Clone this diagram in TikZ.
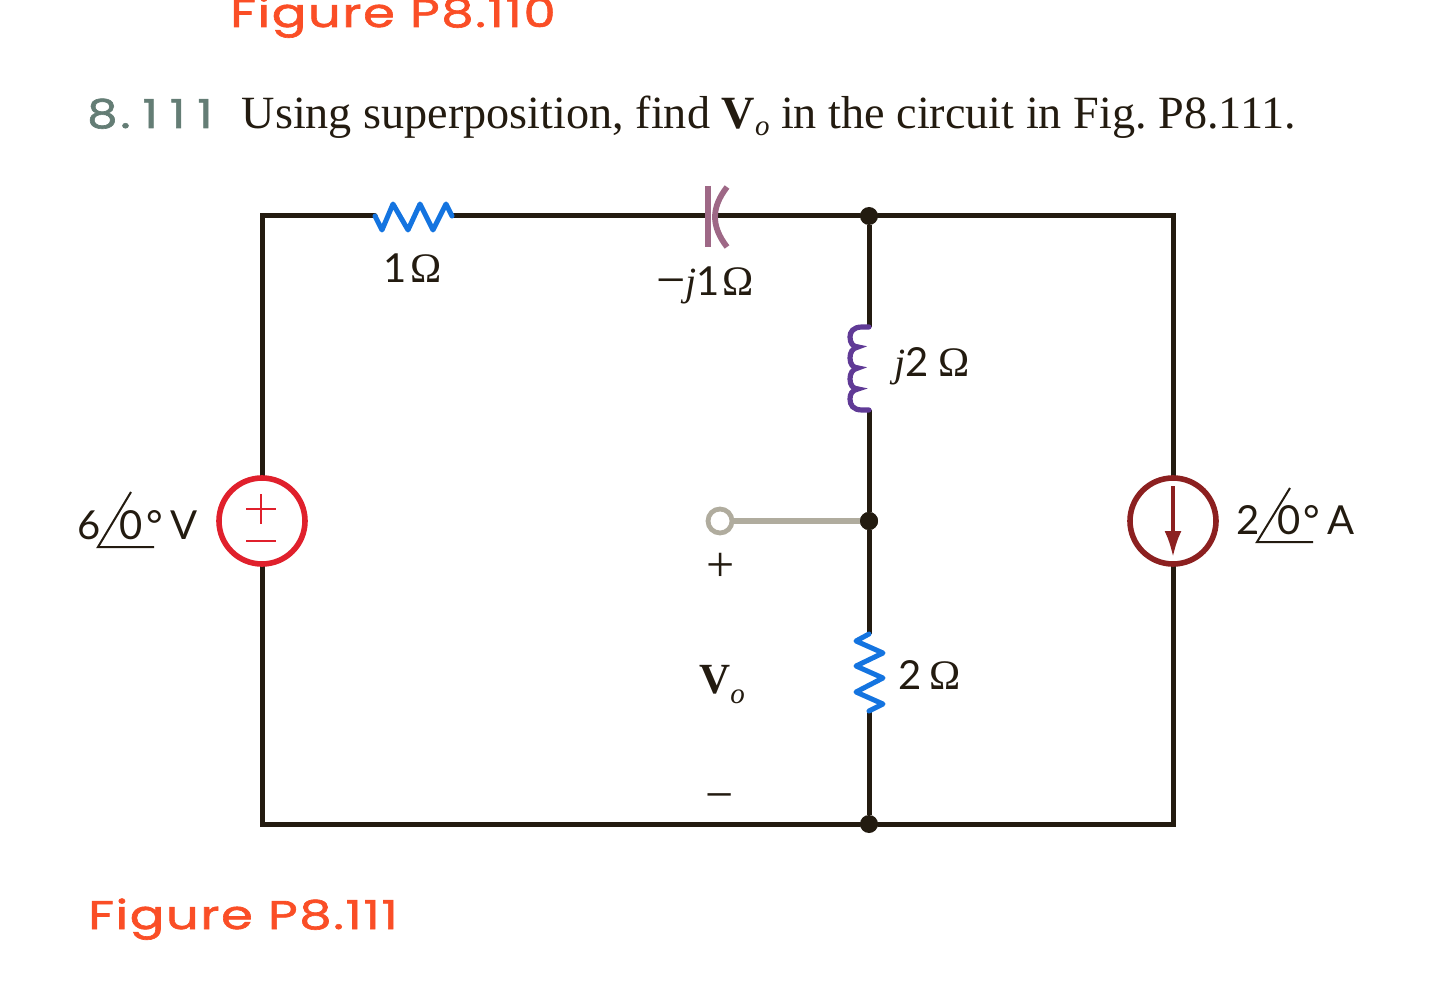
\documentclass[tikz,border=0pt]{standalone}
\usepackage{fontspec}
\setmainfont{Liberation Serif}
\newfontfamily\lblf{Lato}
\newfontfamily\figf{Poppins}[FakeStretch=1.28,LetterSpace=4,FakeBold=1.6]
\newfontfamily\numf{Poppins}[FakeStretch=1.2,LetterSpace=30,FakeBold=1.6]
\usetikzlibrary{arrows.meta}
\definecolor{ink}{RGB}{35,27,16}
\definecolor{orng}{RGB}{250,78,38}
\definecolor{numc}{RGB}{100,125,117}
\definecolor{blu}{RGB}{20,116,224}
\definecolor{mauve}{RGB}{158,104,134}
\definecolor{purp}{RGB}{96,58,150}
\definecolor{redc}{RGB}{224,32,44}
\definecolor{darkr}{RGB}{140,32,32}
\definecolor{gry}{RGB}{176,172,158}
\tikzset{
  wire/.style={draw=ink,line width=5pt},
  res/.style={draw=blu,line width=5pt,line join=round,line cap=round},
  dot/.style={circle,fill=ink,inner sep=0pt,minimum size=18pt},
  src/.style={circle,draw=#1,line width=5.6pt,fill=white,inner sep=0pt,minimum size=86pt},
  lbl/.style={text=ink,inner sep=0pt,anchor=base west,font=\fontsize{40}{44}\selectfont\lblf},
  head/.style={text=ink,inner sep=0pt,anchor=base west,font=\fontsize{46.2}{50}\selectfont\frenchspacing},
  fig/.style={text=orng,inner sep=0pt,anchor=base west,font=\fontsize{40}{46}\selectfont\figf},
  thin line/.style={draw=ink,line width=2pt},
  pm/.style={text=ink,inner sep=0pt,anchor=base,font=\fontsize{50}{52}\selectfont},
}
\newcommand{\ohm}{{\rmfamily\fontsize{42}{44}\selectfont\char"03A9}}
\newcommand{\jit}{{\rmfamily\itshape j}}
\begin{document}
\begin{tikzpicture}[x=1pt,y=-1pt]
\useasboundingbox (0,0) rectangle (1452,1000);
\clip (0,0) rectangle (1452,1000);
% texts
\node[fig] (figa) at (230,27) {Figure P8.110};
\node[fig] (figb) at (88,929) {Figure P8.111};
\node[fig,text=numc,font=\fontsize{40}{46}\selectfont\numf] (num) at (87,128) {8\kern 3pt.111};
\node[head] (prob) at (241.5,129) {Using superposition, find \textbf{V}\raisebox{-7pt}{\fontsize{29}{30}\selectfont\itshape o} in the circuit in Fig. P8.111.};
% coordinates
\coordinate (tl) at (262,216);
\coordinate (tr) at (1173,216);
\coordinate (bl) at (262,824);
\coordinate (br) at (1173,824);
\coordinate (ra) at (375,216);
\coordinate (rb) at (452,216);
\coordinate (ca) at (708,216);
\coordinate (cb) at (716,216);
\coordinate (la) at (869,327);
\coordinate (lb) at (869,410);
\coordinate (sa) at (869,634);
\coordinate (sb) at (869,711);
\node[dot] (jt) at (869,216) {};
\node[dot] (jm) at (869,521) {};
\node[dot] (jb) at (869,824) {};
% wires
\draw[wire,line cap=round] (ra) -- (tl) -- (bl) -- (jb) -- (br) -- (tr) -- (jt) -- (cb);
\draw[wire] (rb) -- (ca);
\draw[wire] (jt) -- (la);
\draw[wire] (lb) -- (jm);
\draw[wire] (jm) -- (sa);
\draw[wire] (sb) -- (jb);
% 1 ohm
\draw[res] (ra) -- (382,230) -- (393,204) -- (408,230) -- (420,204) -- (433,230) -- (446,204) -- (rb);
% 2 ohm
\draw[res] (sa) -- (856,641) -- (883,653) -- (856,666) -- (883,678) -- (856,692) -- (883,704) -- (sb);
% capacitor
\draw[mauve,line width=5.8pt] (708,186) -- (708,247);
\draw[mauve,line width=5.8pt] (727,187) .. controls (711,208) and (711,226) .. (727,247);
% inductor
\draw[purp,line width=5.2pt,line cap=round] (la) -- (862,327)
  .. controls (853,327) and (850,332) .. (850,337)
  .. controls (850,343) and (853,347) .. (858,347)
  .. controls (852,348) and (850,353) .. (850,358)
  .. controls (850,364) and (853,368) .. (858,368)
  .. controls (852,369) and (850,374) .. (850,379)
  .. controls (850,385) and (853,389) .. (858,389)
  .. controls (852,390) and (850,394) .. (850,399)
  .. controls (850,405) and (853,410) .. (862,410) -- (lb);
% sources
\node[src=redc] (vs) at (262,521) {};
\node[src=darkr] (is) at (1173,521) {};
\draw[redc,line width=2.6pt] (246,509) -- (276,509);
\draw[redc,line width=2.6pt] (261,494) -- (261,524);
\draw[redc,line width=2.6pt] (246,541) -- (276,541);
\coordinate (ia) at (1173,486);
\coordinate (ib) at (1173,557);
\draw[darkr,line width=3.6pt,-{Latex[length=26pt,width=17pt,sharp]}] (ia) -- (ib);
% terminal
\node[circle,draw=gry,line width=4.8pt,fill=white,inner sep=0pt,minimum size=24pt] (vt) at (720,521) {};
\draw[gry,line width=5.4pt] (vt) -- (jm);
\node[dot] at (jm) {};
% labels
\node[lbl] (l1) at (383,283) {1\hspace{4pt}\ohm};
\node[lbl] (l2) at (656,296) {\raisebox{-2pt}{\rmfamily\fontsize{52}{52}\selectfont −}\jit 1\hspace{3pt}\ohm};
\node[lbl] (l3) at (894,377) {\jit 2\hspace{10pt}\ohm};
\node[lbl] (l4) at (898,689) {2\hspace{8pt}\ohm};
\node[lbl] (v6) at (77,539) {6};
\node[lbl] (v0) at (119,539) {0};
\node[lbl] (vd) at (146,539) {°};
\node[lbl] (vv) at (170,539) {V};
\draw[thin line] (131,492) -- (98,547) -- (154,547);
\node[lbl] (i2) at (1236,534) {2};
\node[lbl] (i0) at (1277,534) {0};
\node[lbl] (id) at (1303,534) {°};
\node[lbl] (iA) at (1327,534) {A};
\draw[thin line] (1290,488) -- (1257,542) -- (1313,542);
% Vo
\node[head,font=\fontsize{43}{44}\selectfont] (vo) at (699,693) {\textbf{V}\raisebox{-10pt}{\fontsize{29}{30}\selectfont\itshape o}};
\node[pm] (pl) at (721,581) {+};
\node[pm] (mi) at (720,811) {−};
\end{tikzpicture}
\end{document}
